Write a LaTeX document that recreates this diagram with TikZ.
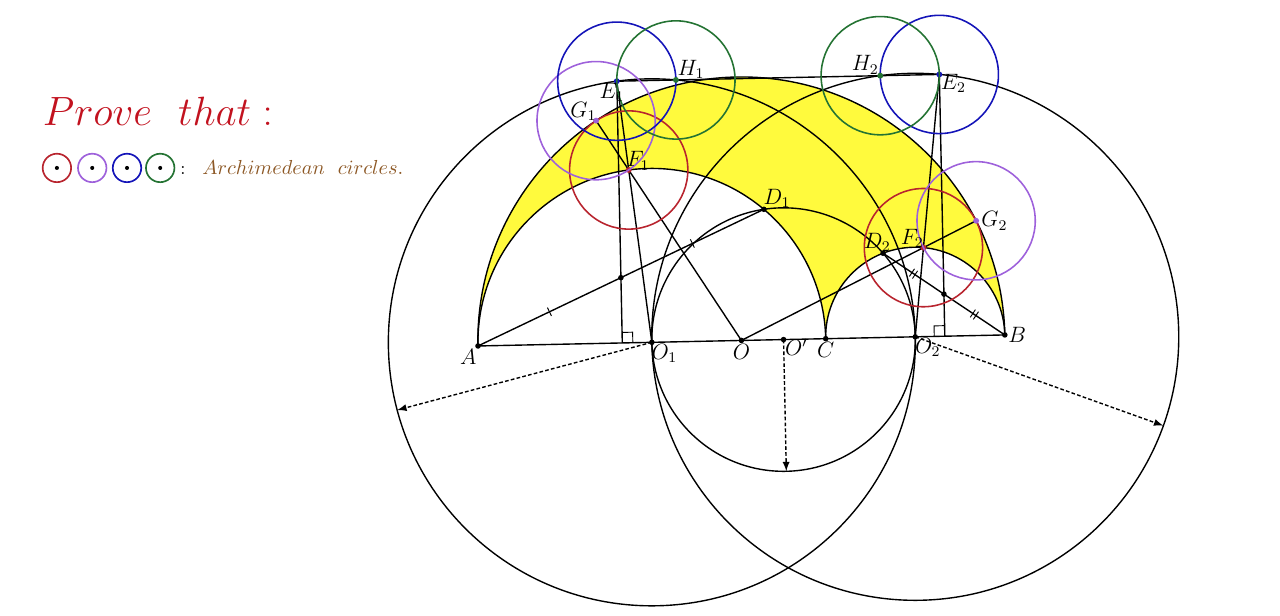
\documentclass[tikz,border=0pt]{standalone}
\usepackage{amsmath}
\usetikzlibrary{calc,positioning}
\definecolor{arbyellow}{rgb}{1,0.98,0.24}
\definecolor{arcred}{rgb}{0.72,0.14,0.18}
\definecolor{arcpurple}{rgb}{0.62,0.38,0.86}
\definecolor{arcblue}{rgb}{0.08,0.08,0.72}
\definecolor{arcgreen}{rgb}{0.14,0.45,0.2}
\definecolor{provered}{rgb}{0.76,0.07,0.12}
\definecolor{arcbrown}{rgb}{0.55,0.34,0.14}

\begin{document}
\begin{tikzpicture}[line width=0.75pt, lbl/.style={font=\fontsize{12}{14}\selectfont, inner sep=1.5pt}]
\useasboundingbox (-9.07,-5.123) rectangle (15.218,6.565);

\node[provered, anchor=base west, inner sep=0pt, scale=1.065, transform shape, font=\fontsize{22}{26}\selectfont] (prove) at (-8.27,4.19) {$Prove\ \ that:$};
\coordinate (k1) at (-7.99,3.378);
\coordinate (k2) at (-7.32,3.378);
\coordinate (k3) at (-6.66,3.378);
\coordinate (k4) at (-6.03,3.378);
\foreach \k/\col in {k1/arcred,k2/arcpurple,k3/arcblue,k4/arcgreen}{
  \draw[\col, line width=0.9pt] (\k) circle (0.27);
  \fill (\k) circle (1.1pt);
}
\node[anchor=base, inner sep=0pt] (colon) at (-5.6,3.245) {$:$};
\node[arcbrown, anchor=base west, inner sep=0pt, font=\fontsize{11}{13}\selectfont] (archtext) at (-5.245,3.245) {$Archimedean\ \ circles.$};

\begin{scope}[rotate=1.2]
\coordinate (A) at (0,0);
\coordinate (B) at (10,0);
\coordinate (C) at (6.6,0);
\coordinate (O) at (5,0);
\coordinate (O1) at (3.3,0);
\coordinate (O2) at (8.3,0);
\coordinate (Op) at (5.8,0);
\coordinate (D1) at (5.478,2.4792);
\coordinate (D2) at (7.722,1.5987);
\coordinate (E1) at (2.739,4.9684);
\coordinate (H1) at (3.861,4.9684);
\coordinate (H2) at (7.739,4.9684);
\coordinate (E2) at (8.861,4.9684);
\coordinate (F1) at (2.9297,3.2791);
\coordinate (F2) at (8.4907,1.6891);
\coordinate (G1) at (2.3307,4.2279);
\coordinate (G2) at (9.5007,2.1778);
\coordinate (M1) at (2.739,1.2396);
\coordinate (M2) at (8.861,0.7994);
\coordinate (P1) at (2.739,0);
\coordinate (P2) at (8.861,0);
\coordinate (r1) at (-1.558,-1.184);
\coordinate (r2) at (12.971,-1.784);
\coordinate (r3) at (5.8,-2.5);

\fill[arbyellow] (A) arc[start angle=180,end angle=0,radius=5] arc[start angle=0,end angle=180,radius=1.7] arc[start angle=0,end angle=180,radius=3.3] -- cycle;
\draw (O1) circle (5);
\draw (O2) circle (5);
\draw (Op) circle (2.5);
\draw (B) arc[start angle=0,end angle=180,radius=5];
\draw (C) arc[start angle=0,end angle=180,radius=3.3];
\draw (B) arc[start angle=0,end angle=180,radius=1.7];
\draw (A) -- (B);
\draw (A) -- (D1);
\draw (B) -- (D2);
\draw (E1) -- (E2);
\draw (E1) -- (P1);
\draw (E2) -- (P2);
\draw (E1) -- (O1);
\draw (E2) -- (O2);
\draw (G1) -- (O);
\draw (G2) -- (O);
\draw[line width=0.5pt] ($(P1)+(0.2,0)$) -- ++(0,0.2) -- ++(-0.2,0);
\draw[line width=0.5pt] ($(P2)+(-0.2,0)$) -- ++(0,0.2) -- ++(0.2,0);
\foreach \p/\q in {A/M1,M1/D1}
  \draw[line width=0.5pt] ($(\p)!0.5!(\q)!2.5pt!90:(\q)$) -- ($(\p)!0.5!(\q)!2.5pt!-90:(\q)$);
\foreach \p/\q in {D2/M2,M2/B}
  \foreach \s in {-1pt,1pt}
    \draw[line width=0.5pt] ($(\p)!0.5!(\q)!\s!(\q)!2.5pt!90:(\q)$) -- ($(\p)!0.5!(\q)!\s!(\q)!2.5pt!-90:(\q)$);
\draw[-latex, dash pattern=on 2pt off 1.2pt] (O1) -- (r1);
\draw[-latex, dash pattern=on 2pt off 1.2pt] (O2) -- (r2);
\draw[-latex, dash pattern=on 2pt off 1.2pt] (Op) -- (r3);

\foreach \c/\col in {F1/arcred,F2/arcred,G1/arcpurple,G2/arcpurple,E1/arcblue,E2/arcblue,H1/arcgreen,H2/arcgreen}{
  \draw[\col, line width=0.85pt] (\c) circle (1.122);
  \fill[\col] (\c) circle (1.6pt);
}
\foreach \p in {A,B,C,O,O1,O2,Op,D1,D2,M1,M2}
  \fill (\p) circle (1.5pt);

\node[lbl, below left=0pt and -1pt of A] (lA) {$A$};
\node[lbl, right=0pt of B] (lB) {$B$};
\node[lbl, below=0pt of C] (lC) {$C$};
\node[lbl, below=0pt of O] (lO) {$O$};
\node[lbl, below right=-1pt and -2pt of O1] (lO1) {$O_1$};
\node[lbl, below right=-1pt and -2pt of O2] (lO2) {$O_2$};
\node[lbl, below right=-2pt and -1pt of Op] (lOp) {$O'$};
\node[lbl, above right=-1pt and -2pt of D1] (lD1) {$D_1$};
\node[lbl, above left=-1pt and -6pt of D2] (lD2) {$D_2$};
\node[lbl, below left=-1pt and -6pt of E1] (lE1) {$E_1$};
\node[lbl, below right=-2pt and -1pt of E2] (lE2) {$E_2$};
\node[lbl, above right=-2pt and -3pt of F1] (lF1) {$F_1$};
\node[lbl, above left=-2pt and -2pt of F2] (lF2) {$F_2$};
\node[lbl, above left=-2pt and -2pt of G1] (lG1) {$G_1$};
\node[lbl, right=1pt of G2] (lG2) {$G_2$};
\node[lbl, above right=-1pt and -1pt of H1] (lH1) {$H_1$};
\node[lbl, above left=-1pt and -1pt of H2] (lH2) {$H_2$};
\end{scope}
\end{tikzpicture}
\end{document}
